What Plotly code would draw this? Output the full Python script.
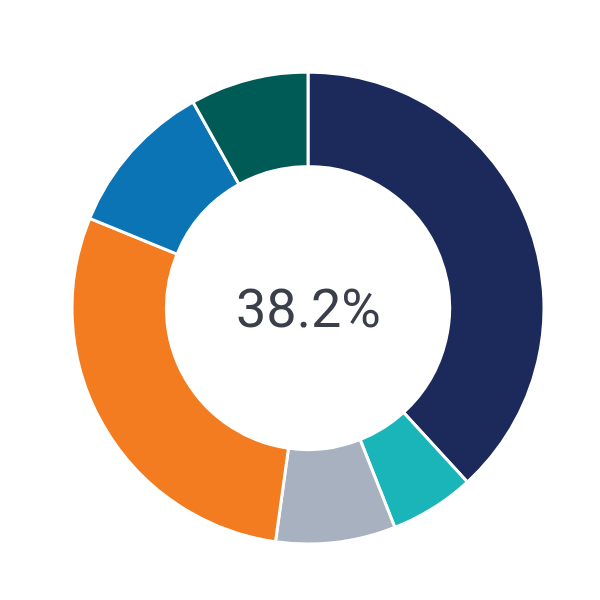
import plotly.graph_objects as go

labels = ["A", "B", "C", "D", "E", "F"]
values = [38.2, 5.8, 8.2, 29.0, 10.7, 8.1]
colors = ["#1b2a5a", "#1ab5b8", "#a7b1c0", "#f47c20", "#0a74b5", "#005a55"]
center_text = "38.2%"

fig = go.Figure(go.Pie(
    labels=labels, values=values, hole=0.6, sort=False, direction="clockwise",
    rotation=0, textinfo="none", hoverinfo="label+percent",
    marker=dict(colors=colors, line=dict(color="white", width=3)),
))
fig.update_layout(
    width=600, height=600, showlegend=False,
    margin=dict(l=64, r=64, t=64, b=64),
    paper_bgcolor="white",
    annotations=[dict(text=center_text, x=0.5, y=0.5, showarrow=False,
                      font=dict(size=54, color="#3a3f4a", family="Roboto, Liberation Sans, Arial"))],
)
fig.write_html("out.html")
